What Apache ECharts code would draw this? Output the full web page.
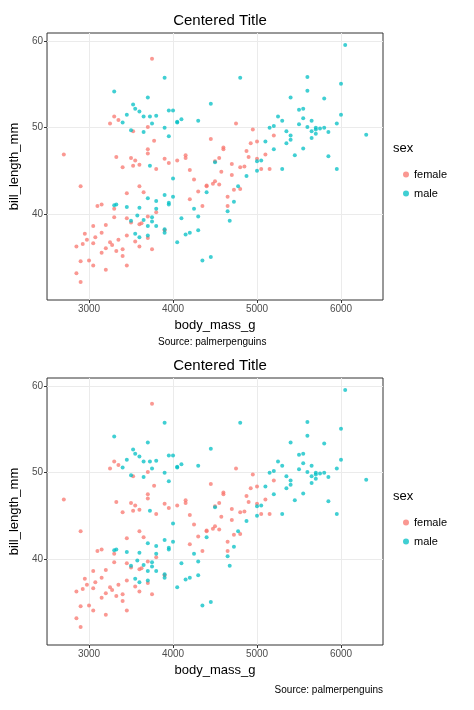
<!DOCTYPE html>
<html><head><meta charset="utf-8">
<script src="https://cdn.jsdelivr.net/npm/echarts@6/dist/echarts.min.js"></script>
<style>html,body{margin:0;background:#fff}#c{width:474px;height:710px}</style>
</head><body><div id="c"></div>
<script>
const titleText = "Centered Title";
const captionText = "Source: palmerpenguins";
const xTicks = [3000, 4000, 5000, 6000];
const yTicks = [40, 50, 60];
const female = [
[3250,36.7],[3450,39.5],[3625,38.9],[3200,36.0],[2900,34.5],[3150,37.8],[3050,36.6],[3200,38.7],[3400,35.9],[2850,36.2],[3450,37.5],[3300,39.6],[3150,35.5],[3300,40.6],[3050,34.0],[2975,37.0],[3000,34.6],[3275,36.4],[3800,40.2],[3325,35.7],[3600,38.8],[2900,32.1],[3200,33.5],[3500,39.0],[3700,37.2],[3550,36.8],[2950,37.7],[3100,40.9],[3400,35.1],[3600,36.2],[3900,38.1],[2850,33.1],[3750,35.9],[3350,37.0],[3700,39.7],[3150,41.1],[3050,38.6],[3450,34.0],[3075,37.3],[2925,36.5],
[3500,46.5],[3400,45.4],[3800,45.2],[2700,46.9],[3450,42.4],[3600,43.2],[3325,46.6],[3600,45.7],[3700,47.0],[3750,58.0],[3250,50.5],[3900,46.4],[3775,48.5],[3550,46.2],[2900,43.2],[3300,51.3],[3525,45.6],[3650,42.5],[3350,50.9],[3700,50.1],[3950,45.9],[3525,49.6],[4150,46.8],[3700,47.5],
[4500,46.1],[4450,48.7],[4550,46.5],[4800,45.4],[4400,43.3],[4650,40.9],[4650,42.0],[4200,45.1],[4150,46.5],[4800,42.9],[5000,48.4],[4400,43.2],[5000,46.4],[4600,47.5],[4700,45.8],[4750,50.5],[5200,49.1],[4700,44.5],[4050,46.2],[4550,43.4],[5050,45.2],[4900,46.6],[4300,42.6],[4575,44.9],[4850,45.5],[4200,41.7],[4500,43.8],[4950,49.8],[5100,46.9],[4350,40.9],[4875,47.3],[4725,42.8],[5150,45.2],[4475,43.5],[4925,48.2],[4600,47.7],[4250,44.0]
];
const male = [
[3750,39.1],[3650,39.3],[4675,39.2],[3800,38.6],[4400,42.5],[4500,46.0],[4200,37.8],[3950,41.1],[3900,38.2],[3800,40.6],[4300,39.7],[3700,41.8],[3550,37.7],[4650,40.3],[3950,41.3],[3500,39.2],[4450,35.0],[3600,40.7],[4150,37.6],[3900,42.2],[4725,41.4],[3750,39.6],[4050,36.7],[3700,37.5],[3325,41.1],[3450,40.8],[4250,40.6],[4775,43.2],[3900,37.8],[4000,44.1],[3700,38.6],[3575,39.8],[3800,41.5],[4000,42.0],[4300,38.1],[3600,37.3],[4100,39.5],[3300,41.0],[4350,34.6],[3725,45.6],
[3900,50.0],[3650,51.3],[3525,52.7],[3725,51.3],[3950,52.0],[3750,50.5],[4050,50.6],[3550,52.2],[3700,53.5],[4450,52.8],[3300,54.2],[4300,50.8],[4100,51.0],[3800,51.4],[4800,55.8],[3950,49.0],[3650,49.5],[4000,52.0],[3400,50.6],[3500,49.7],[3600,51.9],[3450,51.5],[3900,55.8],[4050,50.7],
[5700,50.0],[5400,48.6],[5200,50.2],[5150,50.0],[5550,47.6],[5850,46.7],[6300,49.2],[5350,48.2],[5700,49.3],[5000,46.1],[6050,59.6],[5650,50.8],[5550,51.1],[5850,49.5],[5300,45.2],[6000,51.5],[5950,45.2],[5500,50.4],[5800,53.4],[5400,49.1],[6000,55.1],[5950,50.5],[5650,48.8],[5350,49.6],[5600,55.9],[4875,44.4],[5250,51.3],[5600,54.3],[5700,49.8],[5550,52.2],[5300,50.8],[5500,52.1],[5050,46.2],[5450,46.8],[5600,50.1],[5800,50.0],[5000,45.0],[5200,47.5],[5750,49.9],[5100,48.4],[5400,53.5],[5650,49.6]
];
const FONT = 'Liberation Sans, Arial, sans-serif';
const tops = [33, 378];
const H = 267;
const grids = [], xAxes = [], yAxes = [], series = [], legends = [], titles = [], graphics = [];
tops.forEach((t, i) => {
  grids.push({left: 47, right: 91, top: t, height: H, show: true, borderColor: '#333', borderWidth: 1, backgroundColor: '#fff'});
  xAxes.push({type: 'value', gridIndex: i, min: 2500, max: 6500, interval: 500,
    name: 'body_mass_g', nameLocation: 'middle', nameGap: 19,
    nameTextStyle: {fontFamily: FONT, fontSize: 13, color: '#000'},
    axisLine: {show: false},
    axisTick: {show: true, customValues: xTicks, length: 3, lineStyle: {color: '#333'}},
    axisLabel: {customValues: xTicks, formatter: v => String(v), fontFamily: FONT, fontSize: 10, color: '#4d4d4d', margin: 4},
    splitLine: {show: true, lineStyle: {color: '#ebebeb'}}});
  yAxes.push({type: 'value', gridIndex: i, min: 30, max: 61, interval: 5,
    name: 'bill_length_mm', nameLocation: 'middle', nameGap: 26,
    nameTextStyle: {fontFamily: FONT, fontSize: 13, color: '#000'},
    axisLine: {show: false},
    axisTick: {show: true, customValues: yTicks, length: 3, lineStyle: {color: '#333'}},
    axisLabel: {customValues: yTicks, fontFamily: FONT, fontSize: 10, color: '#4d4d4d', margin: 4},
    splitLine: {show: true, lineStyle: {color: '#ebebeb'}}});
  [['female', female, '#F8766D'], ['male', male, '#00BFC4']].forEach(([n, d, c]) => {
    series.push({type: 'scatter', name: n, xAxisIndex: i, yAxisIndex: i, data: d, symbolSize: 4,
      itemStyle: {color: c, opacity: 0.75}, emphasis: {disabled: true}});
  });
  legends.push({data: ['female', 'male'], orient: 'vertical', left: 398, top: i === 0 ? 164 : 512,
    itemWidth: 6, itemHeight: 6, itemGap: 8, icon: 'circle',
    textStyle: {fontFamily: FONT, fontSize: 11, color: '#000'}});
  titles.push({text: titleText, left: 215, textAlign: 'center', top: t - 25,
    textStyle: {fontFamily: FONT, fontSize: 15, fontWeight: 'normal', color: '#000'}});
  graphics.push({type: 'text', left: 393, top: i === 0 ? 142 : 490,
    style: {text: 'sex', fontFamily: FONT, fontSize: 13, fill: '#000'}});
});
graphics.push({type: 'text', left: 158, top: 337, style: {text: captionText, fontFamily: FONT, fontSize: 10, fill: '#000'}});
graphics.push({type: 'text', right: 91, top: 685, style: {text: captionText, fontFamily: FONT, fontSize: 10, fill: '#000'}});
const chart = echarts.init(document.getElementById('c'));
chart.setOption({animation: false, backgroundColor: '#fff', title: titles, legend: legends,
  grid: grids, xAxis: xAxes, yAxis: yAxes, series: series, graphic: graphics});
</script></body></html>
